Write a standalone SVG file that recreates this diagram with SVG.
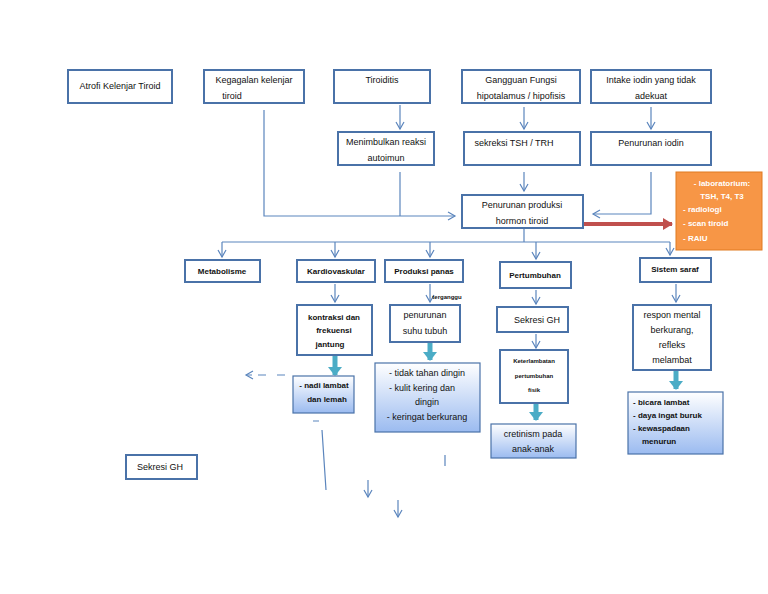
<svg xmlns="http://www.w3.org/2000/svg" width="768" height="594" viewBox="0 0 768 594">
<style>
.b{fill:#fff;stroke:#4a72a8;stroke-width:2}
.g{fill:url(#gr);stroke:#4a72a8;stroke-width:1.2}
.t{font-family:"Liberation Sans",Arial,sans-serif;font-size:9px;fill:#111;text-anchor:middle}
.s{font-size:8px;font-weight:bold}
.c{stroke:#5b85bd;stroke-width:1.2;fill:none}
.k{stroke:#4bacc6;stroke-width:5;fill:none}
</style>
<defs>
<linearGradient id="gr" x1="0" y1="0" x2="0" y2="1"><stop offset="0" stop-color="#ffffff"/><stop offset="1" stop-color="#9bbbf0"/></linearGradient>
<marker id="a" markerWidth="10" markerHeight="10" refX="8" refY="5" orient="auto" markerUnits="userSpaceOnUse"><path d="M1,1 L8,5 L1,9" fill="none" stroke="#5b85bd" stroke-width="1.2"/></marker>
<marker id="tk" markerWidth="16" markerHeight="14" refX="8" refY="7" orient="auto" markerUnits="userSpaceOnUse"><path d="M0,0 L9,7 L0,14 z" fill="#4bacc6"/></marker>
<marker id="rd" markerWidth="14" markerHeight="14" refX="9" refY="7" orient="auto" markerUnits="userSpaceOnUse"><path d="M0,1 L10,7 L0,13 z" fill="#c0504d"/></marker>
</defs>
<g id="connectors">
<path class="c" d="M264,110 V216 H455" marker-end="url(#a)"/>
<path class="c" d="M400,172 V216"/>
<path class="c" d="M400,105 V129" marker-end="url(#a)"/>
<path class="c" d="M524,107 V129" marker-end="url(#a)"/>
<path class="c" d="M651,107 V129" marker-end="url(#a)"/>
<path class="c" d="M524,172 V191" marker-end="url(#a)"/>
<path class="c" d="M651,172 V214 H593" marker-end="url(#a)"/>
<path d="M584,224 H672" stroke="#c0504d" stroke-width="4" marker-end="url(#rd)"/>
<path class="c" d="M524,229 V242 M222,242 H670"/>
<path class="c" d="M222,242 V257" marker-end="url(#a)"/>
<path class="c" d="M335,242 V257" marker-end="url(#a)"/>
<path class="c" d="M430,242 V257" marker-end="url(#a)"/>
<path class="c" d="M536,242 V259" marker-end="url(#a)"/>
<path class="c" d="M670,242 V255" marker-end="url(#a)"/>
<path class="c" d="M335,284 V302" marker-end="url(#a)"/>
<path class="c" d="M430,284 V302" marker-end="url(#a)"/>
<path class="c" d="M536,290 V304" marker-end="url(#a)"/>
<path class="c" d="M676,284 V302" marker-end="url(#a)"/>
<path class="c" d="M536,334 V348" marker-end="url(#a)"/>
<path class="k" d="M335,356 V375" marker-end="url(#tk)"/>
<path class="k" d="M430,343 V360" marker-end="url(#tk)"/>
<path class="k" d="M536,404 V420" marker-end="url(#tk)"/>
<path class="k" d="M676,371 V389" marker-end="url(#tk)"/>
<path class="c" d="M285,375 H273 M266,375 H246" stroke-dasharray="8,6" marker-end="url(#a)"/>
<path class="c" d="M313,421 H319 M322,430 L326,490 M445,455 V466"/>
<path class="c" d="M368,480 V497" marker-end="url(#a)"/>
<path class="c" d="M398,500 V517" marker-end="url(#a)"/>
<path class="c" d="M349,345 V351" marker-end="url(#a)"/>
<path class="c" d="M570,147 V139" marker-end="url(#a)"/>
<path class="c" d="M504,315 V323" marker-end="url(#a)"/>
</g>
<g id="n1"><rect class="b" x="68" y="70" width="104" height="33"/><text class="t" x="120" y="89">Atrofi Kelenjar Tiroid</text></g>
<g id="n2"><rect class="b" x="204" y="70" width="100" height="33"/><text class="t" x="254" y="83">Kegagalan kelenjar</text><text class="t" x="232" y="99">tiroid</text></g>
<g id="n3"><rect class="b" x="334" y="70" width="96" height="33"/><text class="t" x="382" y="83">Tiroiditis</text></g>
<g id="n4"><rect class="b" x="462" y="70" width="118" height="33"/><text class="t" x="521" y="83">Gangguan Fungsi</text><text class="t" x="521" y="99">hipotalamus / hipofisis</text></g>
<g id="n5"><rect class="b" x="591" y="70" width="120" height="33"/><text class="t" x="651" y="83">Intake iodin yang tidak</text><text class="t" x="651" y="99">adekuat</text></g>
<g id="n6"><rect class="b" x="338" y="132" width="96" height="33"/><text class="t" x="386" y="145">Menimbulkan reaksi</text><text class="t" x="386" y="161">autoimun</text></g>
<g id="n7"><rect class="b" x="464" y="132" width="116" height="33"/><text class="t" x="514" y="146">sekreksi TSH / TRH</text></g>
<g id="n8"><rect class="b" x="591" y="132" width="120" height="33"/><text class="t" x="651" y="146">Penurunan iodin</text></g>
<g id="n9"><rect class="b" x="462" y="195" width="121" height="33"/><text class="t" x="522" y="208">Penurunan produksi</text><text class="t" x="522" y="224">hormon tiroid</text></g>
<g id="n10"><rect x="676" y="172" width="86" height="78" fill="#f79646" stroke="#e07a20"/>
<text class="t s" x="722" y="186" fill="#fff" style="fill:#fff">-   laboratorium:</text><text class="t s" x="722" y="199" style="fill:#fff">TSH, T4, T3</text>
<text class="t s" x="683" y="212" style="fill:#fff;text-anchor:start">-  radiologi</text><text class="t s" x="683" y="226" style="fill:#fff;text-anchor:start">-  scan tiroid</text><text class="t s" x="683" y="241" style="fill:#fff;text-anchor:start">-  RAIU</text></g>
<g id="n11"><rect class="b" x="185" y="260" width="75" height="22"/><text class="t s" x="222" y="274">Metabolisme</text></g>
<g id="n12"><rect class="b" x="297" y="260" width="78" height="22"/><text class="t s" x="336" y="274">Kardiovaskular</text></g>
<g id="n13"><rect class="b" x="385" y="260" width="78" height="22"/><text class="t s" x="424" y="274">Produksi panas</text></g>
<g id="n14"><rect class="b" x="500" y="262" width="71" height="26"/><text class="t s" x="535" y="278">Pertumbuhan</text></g>
<g id="n15"><rect class="b" x="640" y="258" width="71" height="24"/><text class="t s" x="675" y="272">Sistem saraf</text></g>
<text class="t" x="447" y="299" style="font-size:6px;font-weight:bold">terganggu</text>
<g id="n16"><rect class="b" x="297" y="305" width="75" height="50"/><text class="t s" x="334" y="320">kontraksi dan</text><text class="t s" x="334" y="333">frekuensi</text><text class="t s" x="330" y="347">jantung</text></g>
<g id="n17"><rect class="b" x="390" y="305" width="70" height="37"/><text class="t" x="425" y="318">penurunan</text><text class="t" x="425" y="334">suhu tubuh</text></g>
<g id="n18"><rect class="b" x="497" y="307" width="71" height="25"/><text class="t" x="537" y="323">Sekresi GH</text></g>
<g id="n19"><rect class="b" x="500" y="350" width="68" height="53"/><text class="t" x="534" y="363" style="font-size:6px;font-weight:bold">Keterlambatan</text><text class="t" x="534" y="378" style="font-size:6px;font-weight:bold">pertumbuhan</text><text class="t" x="534" y="392" style="font-size:6px;font-weight:bold">fisik</text></g>
<g id="n20"><rect class="b" x="633" y="305" width="78" height="65"/><text class="t" x="672" y="318">respon mental</text><text class="t" x="672" y="333">berkurang,</text><text class="t" x="672" y="348">refleks</text><text class="t" x="672" y="363">melambat</text></g>
<g id="n21"><rect class="g" x="293" y="376" width="61" height="37"/><text class="t s" x="324" y="388">-  nadi lambat</text><text class="t s" x="327" y="402">dan lemah</text></g>
<g id="n22"><rect class="g" x="375" y="363" width="105" height="69"/><text class="t" x="427" y="376">-  tidak tahan dingin</text><text class="t" x="422" y="391">-  kulit kering dan</text><text class="t" x="427" y="405">dingin</text><text class="t" x="427" y="420">-  keringat berkurang</text></g>
<g id="n23"><rect class="g" x="491" y="424" width="85" height="34"/><text class="t" x="533" y="437">cretinism pada</text><text class="t" x="533" y="452">anak-anak</text></g>
<g id="n24"><rect class="g" x="628" y="392" width="95" height="62"/><text class="t s" x="633" y="405" style="text-anchor:start">-  bicara lambat</text><text class="t s" x="633" y="418" style="text-anchor:start">-  daya ingat buruk</text><text class="t s" x="633" y="431" style="text-anchor:start">-  kewaspadaan</text><text class="t s" x="642" y="444" style="text-anchor:start">menurun</text></g>
<g id="n25"><rect class="b" x="126" y="455" width="71" height="24"/><text class="t" x="160" y="470">Sekresi GH</text></g>
</svg>
